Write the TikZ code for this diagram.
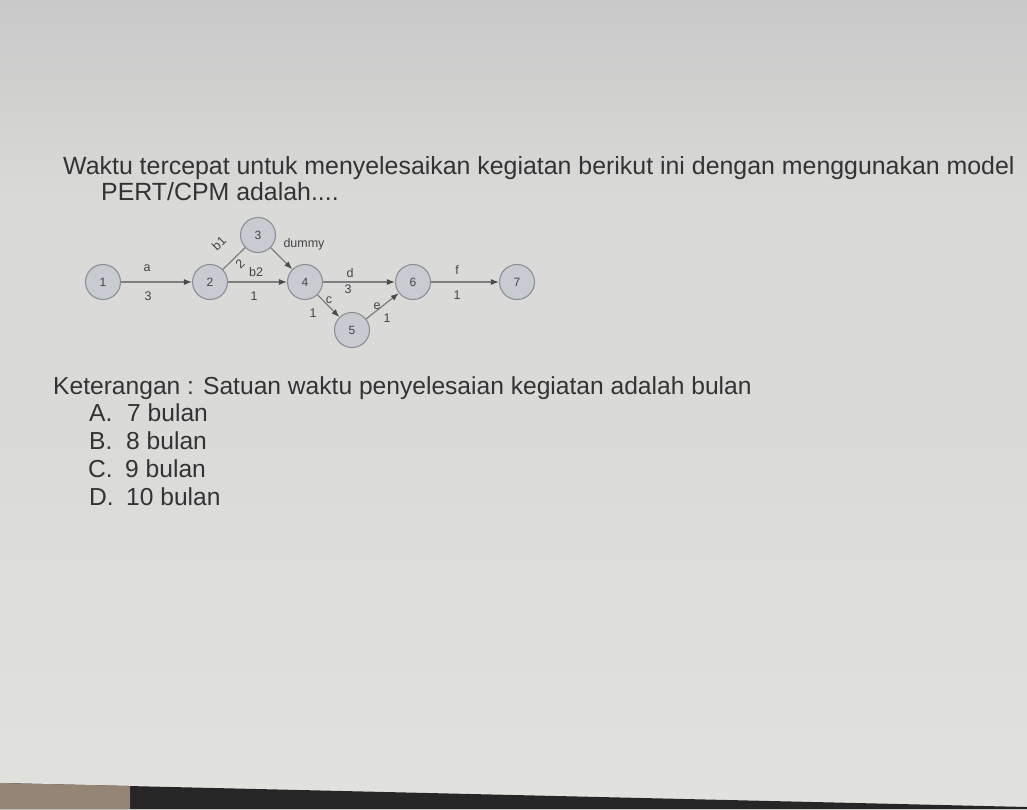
\documentclass[tikz,border=0pt]{standalone}
\usepackage{fontspec}
\setmainfont{Liberation Sans}
\usetikzlibrary{arrows.meta}
\definecolor{bgtop}{HTML}{C9C9C9}
\definecolor{bgmid}{HTML}{DADAD8}
\definecolor{bgbot}{HTML}{E1E1DD}
\definecolor{txt}{HTML}{333333}
\definecolor{nodefill}{HTML}{C8CCD2}
\definecolor{nodedraw}{HTML}{8C8F94}
\definecolor{edgecol}{HTML}{7E7E7E}
\definecolor{tipcol}{HTML}{4A4A4A}
\definecolor{lblcol}{HTML}{444444}
\begin{document}
\begin{tikzpicture}[x=1pt,y=-1pt,
  ev/.style={circle, minimum size=35pt, inner sep=0pt, fill=nodefill, draw=nodedraw, line width=1.1pt,
    text=lblcol, font=\fontsize{12}{12}\selectfont},
  lbl/.style={text=lblcol, font=\fontsize{12.5}{12.5}\selectfont, inner sep=0pt},
  act/.style={draw=edgecol, line width=1.2pt, -{Latex[length=8pt,width=6pt,color=tipcol]}},
  plain/.style={draw=edgecol, line width=1.2pt},
  main/.style={text=txt, font=\fontsize{24.9}{27}\selectfont, inner sep=0pt, anchor=base west},
  lower/.style={main, font=\fontsize{24.6}{27}\selectfont}
]
\useasboundingbox (0,0) rectangle (1027,809);
\shade[top color=bgtop, bottom color=bgmid, middle color=bgmid] (0,0) rectangle (1027,420);
\shade[top color=bgmid, bottom color=bgbot] (0,420) rectangle (1027,809);
% screen bezel at bottom
\fill[black!85] (0,783) -- (1027,807) -- (1027,809) -- (0,809) -- cycle;
\fill[black!60!brown!60] (0,783) -- (130,786) -- (130,809) -- (0,809) -- cycle;

% question
\node[main] (q1) at (63,174) {Waktu tercepat untuk menyelesaikan kegiatan berikut ini dengan menggunakan model};
\node[main] (q2) at (101,200.5) {PERT/CPM adalah....};

% network
\node[ev] (n1) at (103,282) {1};
\node[ev] (n2) at (210,282) {2};
\node[ev] (n3) at (258,235) {3};
\node[ev] (n4) at (305,282) {4};
\node[ev] (n5) at (352,330) {5};
\node[ev] (n6) at (413,282) {6};
\node[ev] (n7) at (517,282) {7};

\draw[act] (n1) -- (n2);
\draw[plain] (n2) -- (n3);
\draw[act] (n2) -- (n4);
\draw[act] (n3) -- (n4);
\draw[act] (n4) -- (n6);
\draw[act] (n4) -- (n5);
\draw[act] (n5) -- (n6);
\draw[act] (n6) -- (n7);

\node[lbl] (la) at (147,268) {a};
\node[lbl] (ta) at (148,296) {3};
\node[lbl, rotate=45] (lb1) at (219,243) {b1};
\node[lbl, rotate=45] (tb1) at (240,264) {2};
\node[lbl] (lb2) at (256,272) {b2};
\node[lbl] (tb2) at (254,296) {1};
\node[lbl] (ldum) at (304,244) {dummy};
\node[lbl] (ld) at (350,273) {d};
\node[lbl] (td) at (348,289) {3};
\node[lbl] (lc) at (329,300) {c};
\node[lbl] (tc) at (313,313) {1};
\node[lbl] (le) at (377,306) {e};
\node[lbl] (te) at (387,318) {1};
\node[lbl] (lf) at (457,270) {f};
\node[lbl] (tf) at (457,295) {1};

% legend and options
\node[lower] (k) at (53,394) {Keterangan : Satuan waktu penyelesaian kegiatan adalah bulan};
\node[lower] (oa) at (89,421.5) {A.};
\node[lower] (ta1) at (127,421.5) {7 bulan};
\node[lower] (ob) at (89,449) {B.};
\node[lower] (tb3) at (126,449) {8 bulan};
\node[lower] (oc) at (88,477) {C.};
\node[lower] (tc3) at (125,477) {9 bulan};
\node[lower] (od) at (89,505) {D.};
\node[lower] (td3) at (126,505) {10 bulan};
\end{tikzpicture}
\end{document}
